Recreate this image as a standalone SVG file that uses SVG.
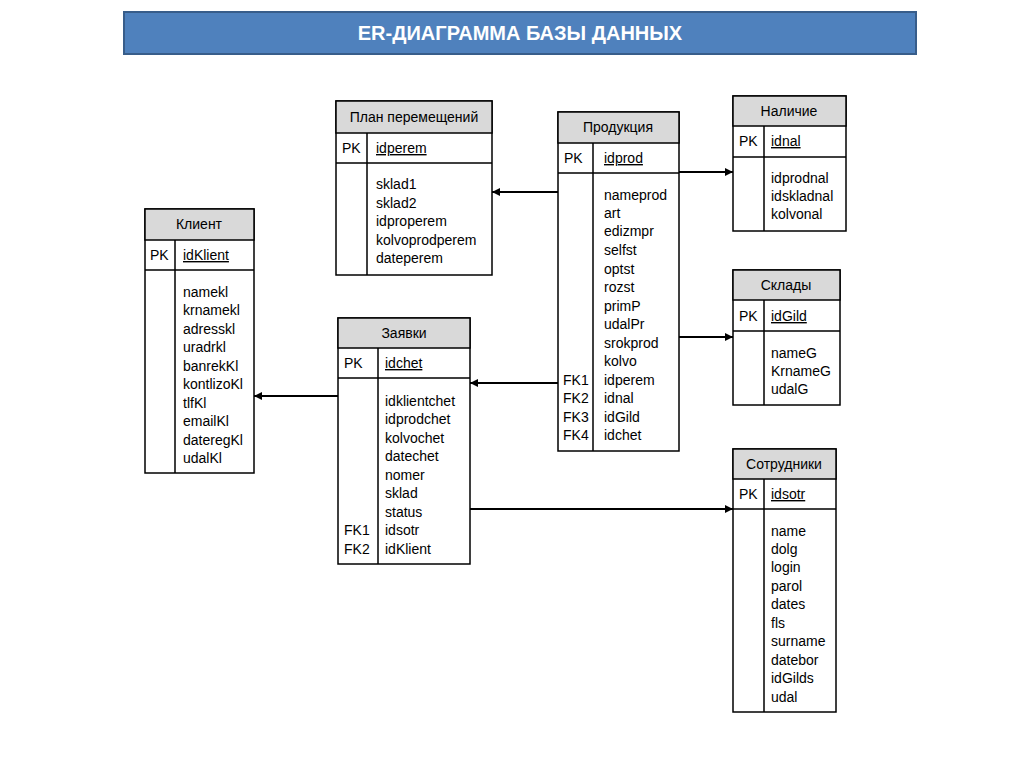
<svg xmlns="http://www.w3.org/2000/svg" width="1024" height="768" viewBox="0 0 1024 768">
<defs>
<style>
.b{fill:#fff;stroke:#000;stroke-width:1.5}
.h{fill:#d9d9d9;stroke:#000;stroke-width:1.5}
.l{stroke:#000;stroke-width:1.5;fill:none}
.t{font-family:"Liberation Sans",Arial,sans-serif;font-size:14px;fill:#000}
.c{text-anchor:middle}
.u{text-decoration:underline}
.k{stroke:#000;stroke-width:2;fill:none;marker-end:url(#a)}
</style>
<marker id="a" viewBox="0 0 10 10" refX="10" refY="5" markerWidth="8" markerHeight="8" markerUnits="userSpaceOnUse" orient="auto"><path d="M0,0L10,5L0,10z" fill="#000"/></marker>
</defs>
<rect width="1024" height="768" fill="#fff"/>
<g id="title"><rect x="124" y="12" width="792" height="42" fill="#4f81bd" stroke="#385d8a" stroke-width="2"/><text x="520" y="40" class="c" font-family="'Liberation Sans',Arial,sans-serif" font-size="20" font-weight="bold" fill="#fff">ER-ДИАГРАММА БАЗЫ ДАННЫХ</text></g>

<g id="plan"><rect class="b" x="336" y="101" width="156" height="174"/><rect class="h" x="336" y="101" width="156" height="32"/><path class="l" d="M336,163H492M367,133V275"/>
<text class="t c" x="414" y="122">План перемещений</text><text class="t" x="342" y="153">PK</text><text class="t u" x="376" y="153">idperem</text>
<text class="t" x="376" y="189">sklad1</text><text class="t" x="376" y="208">sklad2</text><text class="t" x="376" y="226">idproperem</text><text class="t" x="376" y="245">kolvoprodperem</text><text class="t" x="376" y="263">dateperem</text></g>

<g id="prod"><rect class="b" x="558" y="112" width="121" height="339"/><rect class="h" x="558" y="112" width="121" height="31"/><path class="l" d="M558,173H679M593,143V451"/>
<text class="t c" x="618" y="132">Продукция</text><text class="t" x="564" y="163">PK</text><text class="t u" x="604" y="163">idprod</text>
<text class="t" x="604" y="200">nameprod</text><text class="t" x="604" y="218">art</text><text class="t" x="604" y="236">edizmpr</text><text class="t" x="604" y="255">selfst</text><text class="t" x="604" y="274">optst</text><text class="t" x="604" y="292">rozst</text><text class="t" x="604" y="311">primP</text><text class="t" x="604" y="329">udalPr</text><text class="t" x="604" y="348">srokprod</text><text class="t" x="604" y="366">kolvo</text><text class="t" x="604" y="385">idperem</text><text class="t" x="604" y="403">idnal</text><text class="t" x="604" y="422">idGild</text><text class="t" x="604" y="440">idchet</text>
<text class="t" x="563" y="385">FK1</text><text class="t" x="563" y="403">FK2</text><text class="t" x="563" y="422">FK3</text><text class="t" x="563" y="440">FK4</text></g>

<g id="nal"><rect class="b" x="733" y="96" width="113" height="135"/><rect class="h" x="733" y="96" width="113" height="30"/><path class="l" d="M733,157H846M764,126V231"/>
<text class="t c" x="789" y="116">Наличие</text><text class="t" x="739" y="146">PK</text><text class="t u" x="771" y="146">idnal</text>
<text class="t" x="771" y="183">idprodnal</text><text class="t" x="771" y="201">idskladnal</text><text class="t" x="771" y="219">kolvonal</text></g>

<g id="klient"><rect class="b" x="145" y="209" width="109" height="264"/><rect class="h" x="145" y="209" width="109" height="31"/><path class="l" d="M145,270H254M175,240V473"/>
<text class="t c" x="199" y="229">Клиент</text><text class="t" x="150" y="260">PK</text><text class="t u" x="183" y="260">idKlient</text>
<text class="t" x="183" y="297">namekl</text><text class="t" x="183" y="315">krnamekl</text><text class="t" x="183" y="334">adresskl</text><text class="t" x="183" y="352">uradrkl</text><text class="t" x="183" y="371">banrekKl</text><text class="t" x="183" y="389">kontlizoKl</text><text class="t" x="183" y="408">tlfKl</text><text class="t" x="183" y="426">emailKl</text><text class="t" x="183" y="445">dateregKl</text><text class="t" x="183" y="463">udalKl</text></g>

<g id="zayavki"><rect class="b" x="338" y="318" width="132" height="246"/><rect class="h" x="338" y="318" width="132" height="30"/><path class="l" d="M338,378H470M378,348V564"/>
<text class="t c" x="404" y="338">Заявки</text><text class="t" x="344" y="368">PK</text><text class="t u" x="385" y="368">idchet</text>
<text class="t" x="385" y="406">idklientchet</text><text class="t" x="385" y="424">idprodchet</text><text class="t" x="385" y="443">kolvochet</text><text class="t" x="385" y="461">datechet</text><text class="t" x="385" y="480">nomer</text><text class="t" x="385" y="498">sklad</text><text class="t" x="385" y="517">status</text><text class="t" x="385" y="535">idsotr</text><text class="t" x="385" y="554">idKlient</text>
<text class="t" x="344" y="535">FK1</text><text class="t" x="344" y="554">FK2</text></g>

<g id="sklady"><rect class="b" x="733" y="270" width="107" height="135"/><rect class="h" x="733" y="270" width="107" height="30"/><path class="l" d="M733,331H840M764,300V405"/>
<text class="t c" x="786" y="290">Склады</text><text class="t" x="739" y="321">PK</text><text class="t u" x="771" y="321">idGild</text>
<text class="t" x="771" y="358">nameG</text><text class="t" x="771" y="376">KrnameG</text><text class="t" x="771" y="394">udalG</text></g>

<g id="sotr"><rect class="b" x="733" y="449" width="103" height="263"/><rect class="h" x="733" y="449" width="103" height="30"/><path class="l" d="M733,509H836M764,479V712"/>
<text class="t c" x="784" y="469">Сотрудники</text><text class="t" x="739" y="499">PK</text><text class="t u" x="771" y="499">idsotr</text>
<text class="t" x="771" y="536">name</text><text class="t" x="771" y="554">dolg</text><text class="t" x="771" y="572">login</text><text class="t" x="771" y="591">parol</text><text class="t" x="771" y="609">dates</text><text class="t" x="771" y="628">fls</text><text class="t" x="771" y="646">surname</text><text class="t" x="771" y="665">datebor</text><text class="t" x="771" y="683">idGilds</text><text class="t" x="771" y="702">udal</text></g>

<g id="connectors">
<path class="k" d="M558,192H492"/>
<path class="k" d="M679,172H733"/>
<path class="k" d="M679,337H733"/>
<path class="k" d="M558,383H470"/>
<path class="k" d="M338,396H254"/>
<path class="k" d="M470,509H733"/>
</g>
</svg>
